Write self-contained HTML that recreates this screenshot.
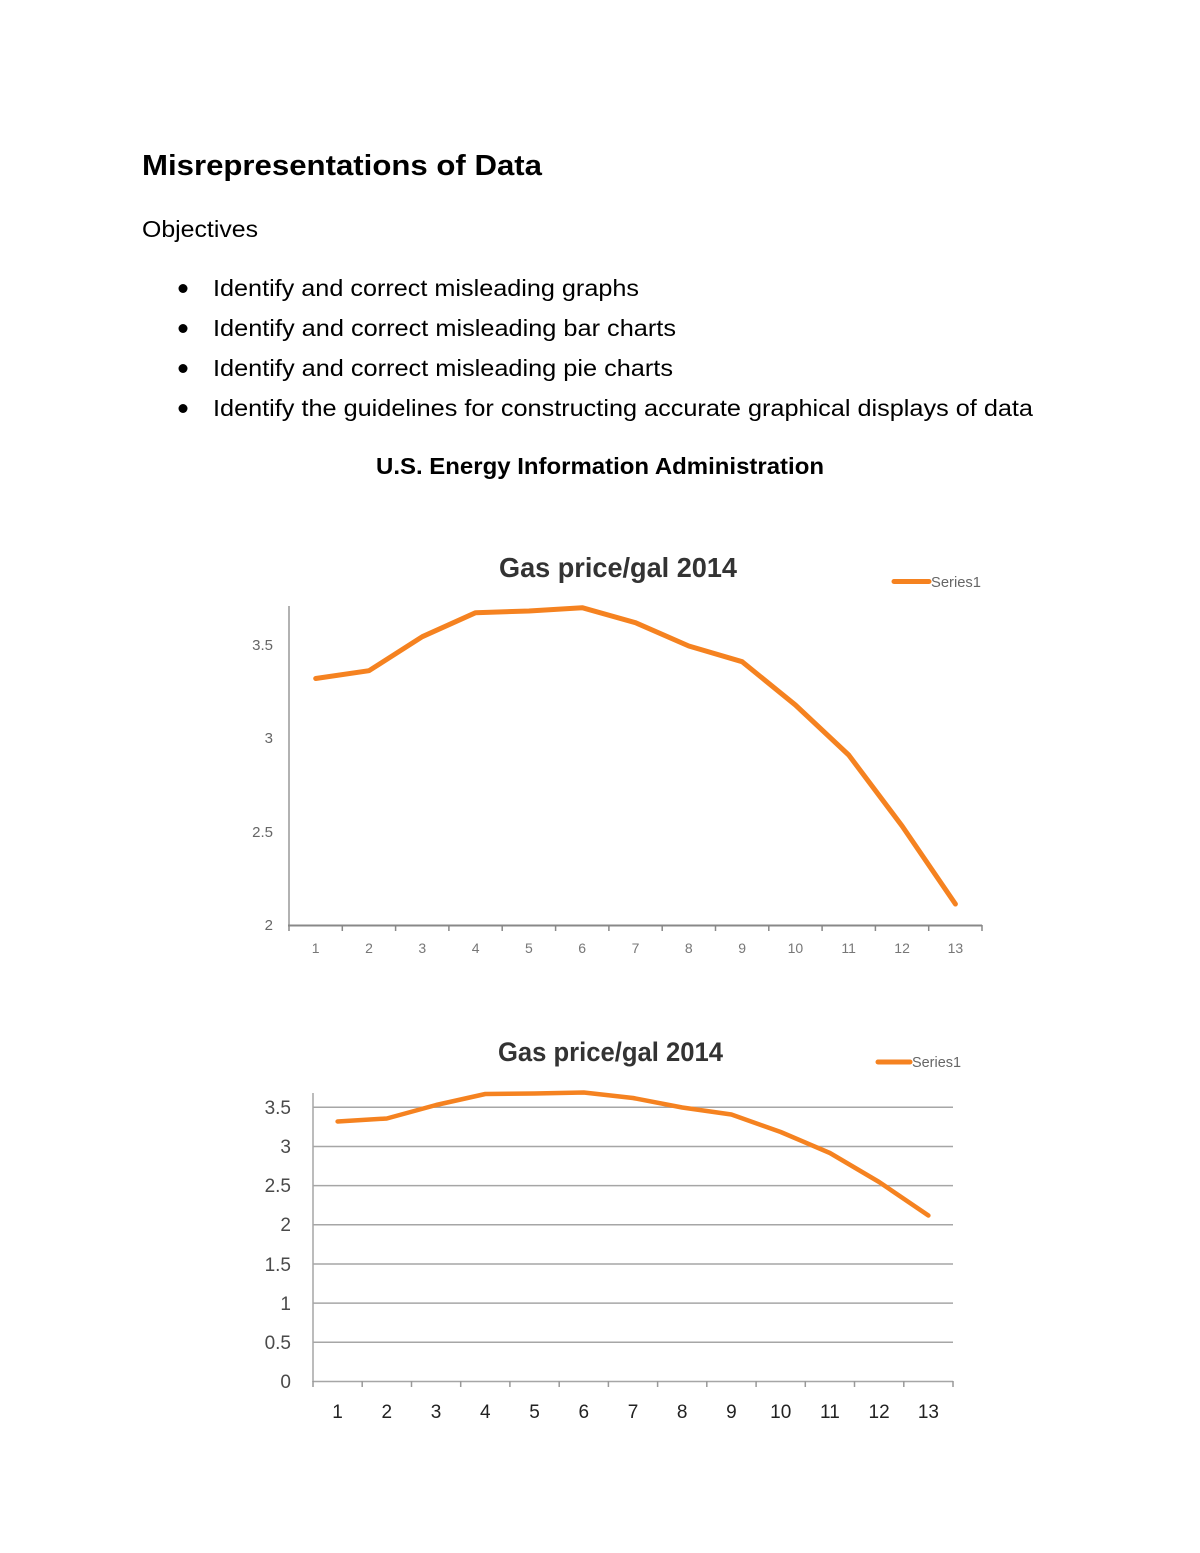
<!DOCTYPE html>
<html>
<head>
<meta charset="utf-8">
<style>
html,body{margin:0;padding:0;background:#fff;}
svg{display:block;}
text{font-family:"Liberation Sans",Arial,sans-serif;}
</style>
</head>
<body>
<svg width="1200" height="1553" viewBox="0 0 1200 1553" xmlns="http://www.w3.org/2000/svg">
<rect width="1200" height="1553" fill="#fff"/>

<!-- Header text -->
<text x="142" y="175" font-size="29" font-weight="bold" fill="#000" textLength="400" lengthAdjust="spacingAndGlyphs">Misrepresentations of Data</text>
<text x="142" y="237" font-size="23" fill="#000" textLength="116" lengthAdjust="spacingAndGlyphs">Objectives</text>

<circle cx="183" cy="288.5" r="4.5" fill="#000"/>
<circle cx="183" cy="328.5" r="4.5" fill="#000"/>
<circle cx="183" cy="368.5" r="4.5" fill="#000"/>
<circle cx="183" cy="408.5" r="4.5" fill="#000"/>
<text x="213" y="296" font-size="23" fill="#000" textLength="426" lengthAdjust="spacingAndGlyphs">Identify and correct misleading graphs</text>
<text x="213" y="336" font-size="23" fill="#000" textLength="463" lengthAdjust="spacingAndGlyphs">Identify and correct misleading bar charts</text>
<text x="213" y="376" font-size="23" fill="#000" textLength="460" lengthAdjust="spacingAndGlyphs">Identify and correct misleading pie charts</text>
<text x="213" y="416" font-size="23" fill="#000" textLength="820" lengthAdjust="spacingAndGlyphs">Identify the guidelines for constructing accurate graphical displays of data</text>

<text x="376" y="474" font-size="23" font-weight="bold" fill="#000" textLength="448" lengthAdjust="spacingAndGlyphs">U.S. Energy Information Administration</text>

<!-- ================= Chart 1 ================= -->
<text x="499" y="577" font-size="28" font-weight="bold" fill="#333" textLength="238" lengthAdjust="spacingAndGlyphs">Gas price/gal 2014</text>
<line x1="894" y1="581.5" x2="929" y2="581.5" stroke="#F58220" stroke-width="5" stroke-linecap="round"/>
<text x="931" y="587" font-size="15" fill="#666" textLength="50" lengthAdjust="spacingAndGlyphs">Series1</text>

<!-- axes -->
<line x1="289" y1="606" x2="289" y2="926" stroke="#999" stroke-width="1.5"/>
<line x1="288" y1="925.5" x2="982" y2="925.5" stroke="#888" stroke-width="2"/>
<g stroke="#888" stroke-width="1.5">
<line x1="289" y1="925" x2="289" y2="931"/>
<line x1="342.3" y1="925" x2="342.3" y2="931"/>
<line x1="395.6" y1="925" x2="395.6" y2="931"/>
<line x1="448.9" y1="925" x2="448.9" y2="931"/>
<line x1="502.2" y1="925" x2="502.2" y2="931"/>
<line x1="555.6" y1="925" x2="555.6" y2="931"/>
<line x1="608.9" y1="925" x2="608.9" y2="931"/>
<line x1="662.2" y1="925" x2="662.2" y2="931"/>
<line x1="715.5" y1="925" x2="715.5" y2="931"/>
<line x1="768.8" y1="925" x2="768.8" y2="931"/>
<line x1="822.1" y1="925" x2="822.1" y2="931"/>
<line x1="875.4" y1="925" x2="875.4" y2="931"/>
<line x1="928.7" y1="925" x2="928.7" y2="931"/>
<line x1="982" y1="925" x2="982" y2="931"/>
</g>
<g font-size="15" fill="#666" text-anchor="end">
<text x="273" y="650">3.5</text>
<text x="273" y="743">3</text>
<text x="273" y="837">2.5</text>
<text x="273" y="930">2</text>
</g>
<g font-size="14" fill="#777" text-anchor="middle">
<text x="315.7" y="953">1</text>
<text x="369" y="953">2</text>
<text x="422.3" y="953">3</text>
<text x="475.6" y="953">4</text>
<text x="528.9" y="953">5</text>
<text x="582.2" y="953">6</text>
<text x="635.5" y="953">7</text>
<text x="688.8" y="953">8</text>
<text x="742.1" y="953">9</text>
<text x="795.4" y="953">10</text>
<text x="848.7" y="953">11</text>
<text x="902.1" y="953">12</text>
<text x="955.4" y="953">13</text>
</g>
<polyline fill="none" stroke="#F58220" stroke-width="5" stroke-linejoin="round" stroke-linecap="round"
points="315.7,678.5 369,670.7 422.3,636.7 475.6,612.7 528.9,611 582.2,607.7 635.5,622.7 688.8,646 742.1,661.7 795.4,705 848.7,755 902.1,826 955.4,904"/>

<!-- ================= Chart 2 ================= -->
<text x="498" y="1061" font-size="27" font-weight="bold" fill="#333" textLength="225" lengthAdjust="spacingAndGlyphs">Gas price/gal 2014</text>
<line x1="878" y1="1062" x2="910" y2="1062" stroke="#F58220" stroke-width="5" stroke-linecap="round"/>
<text x="912" y="1067" font-size="15" fill="#666" textLength="49" lengthAdjust="spacingAndGlyphs">Series1</text>

<g stroke="#a6a6a6" stroke-width="1.5">
<line x1="313" y1="1107.3" x2="953" y2="1107.3"/>
<line x1="313" y1="1146.5" x2="953" y2="1146.5"/>
<line x1="313" y1="1185.6" x2="953" y2="1185.6"/>
<line x1="313" y1="1224.8" x2="953" y2="1224.8"/>
<line x1="313" y1="1264" x2="953" y2="1264"/>
<line x1="313" y1="1303.1" x2="953" y2="1303.1"/>
<line x1="313" y1="1342.3" x2="953" y2="1342.3"/>
<line x1="313" y1="1381.5" x2="953" y2="1381.5"/>
<line x1="313" y1="1093" x2="313" y2="1382"/>
</g>
<g stroke="#999" stroke-width="1.5">
<line x1="313" y1="1381" x2="313" y2="1387"/>
<line x1="362.2" y1="1381" x2="362.2" y2="1387"/>
<line x1="411.5" y1="1381" x2="411.5" y2="1387"/>
<line x1="460.7" y1="1381" x2="460.7" y2="1387"/>
<line x1="509.9" y1="1381" x2="509.9" y2="1387"/>
<line x1="559.2" y1="1381" x2="559.2" y2="1387"/>
<line x1="608.4" y1="1381" x2="608.4" y2="1387"/>
<line x1="657.6" y1="1381" x2="657.6" y2="1387"/>
<line x1="706.8" y1="1381" x2="706.8" y2="1387"/>
<line x1="756.1" y1="1381" x2="756.1" y2="1387"/>
<line x1="805.3" y1="1381" x2="805.3" y2="1387"/>
<line x1="854.5" y1="1381" x2="854.5" y2="1387"/>
<line x1="903.8" y1="1381" x2="903.8" y2="1387"/>
<line x1="953" y1="1381" x2="953" y2="1387"/>
</g>
<g font-size="19" fill="#4a4a4a" text-anchor="end">
<text x="291" y="1114">3.5</text>
<text x="291" y="1153">3</text>
<text x="291" y="1192">2.5</text>
<text x="291" y="1231">2</text>
<text x="291" y="1271">1.5</text>
<text x="291" y="1310">1</text>
<text x="291" y="1349">0.5</text>
<text x="291" y="1388">0</text>
</g>
<g font-size="19" fill="#222" text-anchor="middle">
<text x="337.6" y="1418">1</text>
<text x="386.8" y="1418">2</text>
<text x="436.1" y="1418">3</text>
<text x="485.3" y="1418">4</text>
<text x="534.5" y="1418">5</text>
<text x="583.8" y="1418">6</text>
<text x="633" y="1418">7</text>
<text x="682.2" y="1418">8</text>
<text x="731.4" y="1418">9</text>
<text x="780.7" y="1418">10</text>
<text x="829.9" y="1418">11</text>
<text x="879.1" y="1418">12</text>
<text x="928.4" y="1418">13</text>
</g>
<polyline fill="none" stroke="#F58220" stroke-width="4.5" stroke-linejoin="round" stroke-linecap="round"
points="337.6,1121.5 386.8,1118.5 436.1,1105 485.3,1094 534.5,1093.5 583.8,1092.5 633,1098 682.2,1107.5 731.4,1114.5 780.7,1132 829.9,1153 879.1,1182 928.4,1215.5"/>
</svg>
</body>
</html>
